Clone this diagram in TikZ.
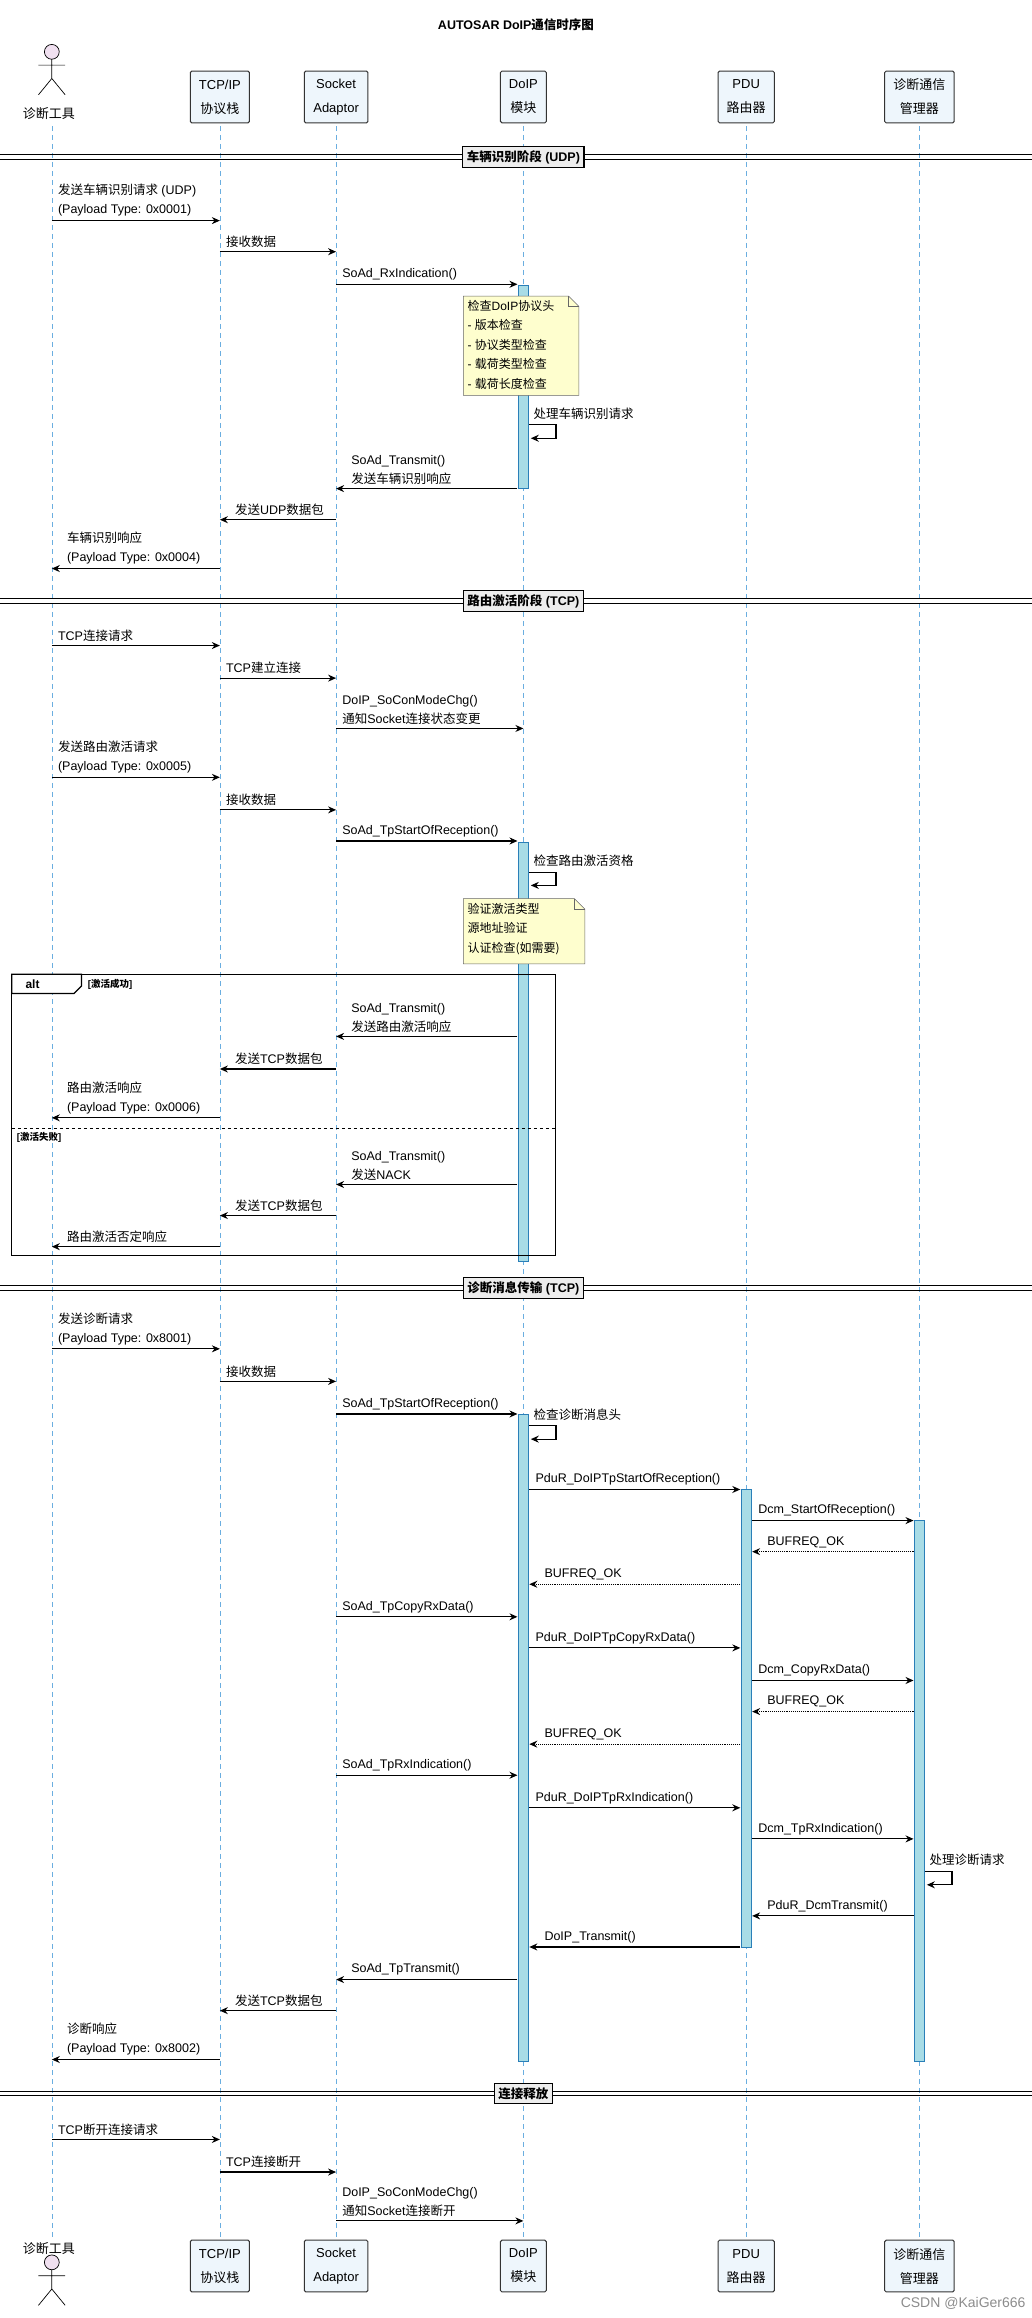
\documentclass[tikz,border=0pt]{standalone}
\usepackage{fontspec}
\setmainfont{Liberation Sans}
\newfontfamily\cjk{Noto Sans CJK SC}
\newcommand\zh[1]{{\cjk #1}}
\usetikzlibrary{arrows.meta}
\definecolor{actfill}{HTML}{A8DCE6}
\definecolor{actdraw}{HTML}{2A7FB8}
\definecolor{lifec}{HTML}{6AAEE0}
\definecolor{headfill}{HTML}{EEF6FC}
\definecolor{notefill}{HTML}{FEFECE}
\tikzset{
 msg/.style={line width=1.1pt,-{Stealth[length=8pt,width=7pt]}},
 ret/.style={line width=1.1pt,densely dotted,-{Stealth[length=8pt,width=7pt]}},
 lbl/.style={font=\fontsize{12.5}{19}\selectfont,align=left,inner sep=1pt,anchor=south west},
 life/.style={lifec,dash pattern=on 5pt off 4pt,line width=0.6pt},
 headbox/.style={draw=black!80,fill=headfill,rounded corners=1.5pt,line width=1pt,minimum height=35pt*1.48,align=center,font=\fontsize{13}{24}\selectfont,inner sep=2pt},
 actbar/.style={draw=actdraw,fill=actfill,line width=0.6pt},
 notebox/.style={draw=black!60,fill=notefill,line width=0.5pt},
 divlbl/.style={draw=black,line width=1.2pt,fill=black!7,font=\bfseries\fontsize{12.5}{14}\selectfont,inner sep=4pt}
}
\newcommand\msgR[4]{\draw[msg] (#1,#3) -- (#2,#3); \node[lbl] at ([xshift=5pt]#1,#3-2) {#4};}
\newcommand\msgL[4]{\draw[msg] (#1,#3) -- (#2,#3); \node[lbl] at ([xshift=14pt]#2,#3-2) {#4};}
\newcommand\retL[4]{\draw[ret] (#1,#3) -- (#2,#3); \node[lbl] at ([xshift=14pt]#2,#3-2) {#4};}
\newcommand\divider[2]{\draw[line width=0.9pt] (0,#1-1.5) -- (697,#1-1.5) (0,#1+1.5) -- (697,#1+1.5); \node[divlbl] (dv#1) at (353.5,#1) {#2};}
\newcommand\selfmsg[3]{\draw[msg] (#1,#2) -- ++(18,0) -- ++(0,9) -- ++(-17,0); \node[lbl] at ([xshift=3pt]#1,#2-3) {#3};}
\begin{document}
\begin{tikzpicture}[x=1.4806pt,y=-1.4806pt]
\useasboundingbox (0,0) rectangle (697,1565.6);
\def\A{35}\def\T{148.5}\def\S{227}\def\D{353.5}\def\P{504}\def\M{621}
\node[font=\bfseries\fontsize{12.5}{14}\selectfont] (title) at (348.5,17) {AUTOSAR DoIP\zh{通信时序图}};
% lifelines
\foreach \x in {\A,\T,\S,\D,\P,\M} \draw[life] (\x,85) -- (\x,1512);
% heads and feet
\foreach \yy/\nm in {65.5/h,1530.5/f}{
 \node[headbox,minimum width=40*1.48pt] (\nm tcp) at (\T,\yy) {TCP/IP\\\zh{协议栈}};
 \node[headbox,minimum width=43*1.48pt] (\nm soad) at (\S,\yy) {Socket\\Adaptor};
 \node[headbox,minimum width=31*1.48pt] (\nm doip) at (\D,\yy) {DoIP\\\zh{模块}};
 \node[headbox,minimum width=38*1.48pt] (\nm pdu) at (\P,\yy) {PDU\\\zh{路由器}};
 \node[headbox,minimum width=47*1.48pt] (\nm dcm) at (\M,\yy) {\zh{诊断通信}\\\zh{管理器}};
}
% actors
\foreach \yy/\ly in {37/77, 1530/1519}{
 \draw[line width=0.7pt,fill=violet!12] (\A,\yy-2) circle (5);
 \draw[line width=0.7pt] (\A,\yy+3) -- (\A,\yy+16) (\A-9,\yy+7) -- (\A+9,\yy+7) (\A-9,\yy+27) -- (\A,\yy+16) -- (\A+9,\yy+27);
 \node[font=\fontsize{13}{15}\selectfont] at (\A-2,\ly) {\zh{诊断工具}};
}
% activation bars
\draw[actbar] (\D-3.5,193) rectangle (\D+3.5,330);
\draw[actbar] (\D-3.5,569) rectangle (\D+3.5,852);
\draw[actbar] (\D-3.5,955) rectangle (\D+3.5,1392);
\draw[actbar] (\P-3.5,1006) rectangle (\P+3.5,1315);
\draw[actbar] (\M-3.5,1027) rectangle (\M+3.5,1392);
% phase 1
\divider{106}{\zh{车辆识别阶段} (UDP)}
\msgR{\A}{\T}{149}{\zh{发送车辆识别请求} (UDP)\\(Payload Type: 0x0001)}
\msgR{\T}{\S}{170}{\zh{接收数据}}
\msgR{\S}{\D-4}{192}{SoAd\_RxIndication()}
\draw[notebox] (313,200) -- (384,200) -- (391,207) -- (391,267) -- (313,267) -- cycle;
\draw[notebox,fill=none] (384,200) -- (384,207) -- (391,207);
\node[lbl,anchor=north west,font=\fontsize{12}{19.5}\selectfont] (n1) at (315,202) {\zh{检查}DoIP\zh{协议头}\\- \zh{版本检查}\\- \zh{协议类型检查}\\- \zh{载荷类型检查}\\- \zh{载荷长度检查}};
\selfmsg{\D+4}{287}{\zh{处理车辆识别请求}}
\msgL{\D-4}{\S}{330}{SoAd\_Transmit()\\\zh{发送车辆识别响应}}
\msgL{\S}{\T}{351}{\zh{发送}UDP\zh{数据包}}
\msgL{\T}{\A}{384}{\zh{车辆识别响应}\\(Payload Type: 0x0004)}
% phase 2
\divider{406}{\zh{路由激活阶段} (TCP)}
\msgR{\A}{\T}{436}{TCP\zh{连接请求}}
\msgR{\T}{\S}{458}{TCP\zh{建立连接}}
\msgR{\S}{\D}{492}{DoIP\_SoConModeChg()\\\zh{通知}Socket\zh{连接状态变更}}
\msgR{\A}{\T}{525}{\zh{发送路由激活请求}\\(Payload Type: 0x0005)}
\msgR{\T}{\S}{547}{\zh{接收数据}}
\msgR{\S}{\D-4}{568}{SoAd\_TpStartOfReception()}
\selfmsg{\D+4}{589}{\zh{检查路由激活资格}}
\draw[notebox] (313,607) -- (388,607) -- (395,614) -- (395,651) -- (313,651) -- cycle;
\draw[notebox,fill=none] (388,607) -- (388,614) -- (395,614);
\node[lbl,anchor=north west,font=\fontsize{12}{19.5}\selectfont] (n2) at (315,609) {\zh{验证激活类型}\\\zh{源地址验证}\\\zh{认证检查(如需要)}};
\draw[line width=1.2pt] (8,658) rectangle (375,848);
\draw[line width=1.2pt,fill=white] (8,658) -- (55,658) -- (55,666) -- (50,671) -- (8,671) -- cycle;
\node[font=\bfseries\fontsize{12}{14}\selectfont] (alt) at (22,665) {alt};
\node[font=\bfseries\fontsize{9.5}{11}\selectfont,anchor=west] (g1) at (57,665) {[\zh{激活成功}]};
\draw[dashed,line width=0.7pt] (8,762) -- (375,762);
\node[font=\bfseries\fontsize{9.5}{11}\selectfont,anchor=west] (g2) at (9,768) {[\zh{激活失败}]};
\msgL{\D-4}{\S}{700}{SoAd\_Transmit()\\\zh{发送路由激活响应}}
\msgL{\S}{\T}{722}{\zh{发送}TCP\zh{数据包}}
\msgL{\T}{\A}{755}{\zh{路由激活响应}\\(Payload Type: 0x0006)}
\msgL{\D-4}{\S}{800}{SoAd\_Transmit()\\\zh{发送}NACK}
\msgL{\S}{\T}{821}{\zh{发送}TCP\zh{数据包}}
\msgL{\T}{\A}{842}{\zh{路由激活否定响应}}
% phase 3
\divider{870}{\zh{诊断消息传输} (TCP)}
\msgR{\A}{\T}{911}{\zh{发送诊断请求}\\(Payload Type: 0x8001)}
\msgR{\T}{\S}{933}{\zh{接收数据}}
\msgR{\S}{\D-4}{955}{SoAd\_TpStartOfReception()}
\selfmsg{\D+4}{963}{\zh{检查诊断消息头}}
\msgR{\D+4}{\P-4}{1006}{PduR\_DoIPTpStartOfReception()}
\msgR{\P+4}{\M-4}{1027}{Dcm\_StartOfReception()}
\retL{\M-4}{\P+4}{1048}{BUFREQ\_OK}
\retL{\P-4}{\D+4}{1070}{BUFREQ\_OK}
\msgR{\S}{\D-4}{1092}{SoAd\_TpCopyRxData()}
\msgR{\D+4}{\P-4}{1113}{PduR\_DoIPTpCopyRxData()}
\msgR{\P+4}{\M-4}{1135}{Dcm\_CopyRxData()}
\retL{\M-4}{\P+4}{1156}{BUFREQ\_OK}
\retL{\P-4}{\D+4}{1178}{BUFREQ\_OK}
\msgR{\S}{\D-4}{1199}{SoAd\_TpRxIndication()}
\msgR{\D+4}{\P-4}{1221}{PduR\_DoIPTpRxIndication()}
\msgR{\P+4}{\M-4}{1242}{Dcm\_TpRxIndication()}
\selfmsg{\M+4}{1264}{\zh{处理诊断请求}}
\msgL{\M-4}{\P+4}{1294}{PduR\_DcmTransmit()}
\msgL{\P-4}{\D+4}{1315}{DoIP\_Transmit()}
\msgL{\D-4}{\S}{1337}{SoAd\_TpTransmit()}
\msgL{\S}{\T}{1358}{\zh{发送}TCP\zh{数据包}}
\msgL{\T}{\A}{1391}{\zh{诊断响应}\\(Payload Type: 0x8002)}
% phase 4
\divider{1414}{\zh{连接释放}}
\msgR{\A}{\T}{1445}{TCP\zh{断开连接请求}}
\msgR{\T}{\S}{1467}{TCP\zh{连接断开}}
\msgR{\S}{\D}{1500}{DoIP\_SoConModeChg()\\\zh{通知}Socket\zh{连接断开}}
\node[anchor=east,text=black!45,font=\fontsize{14}{16}\selectfont] (wm) at (695,1556) {CSDN @KaiGer666};
\end{tikzpicture}
\end{document}
